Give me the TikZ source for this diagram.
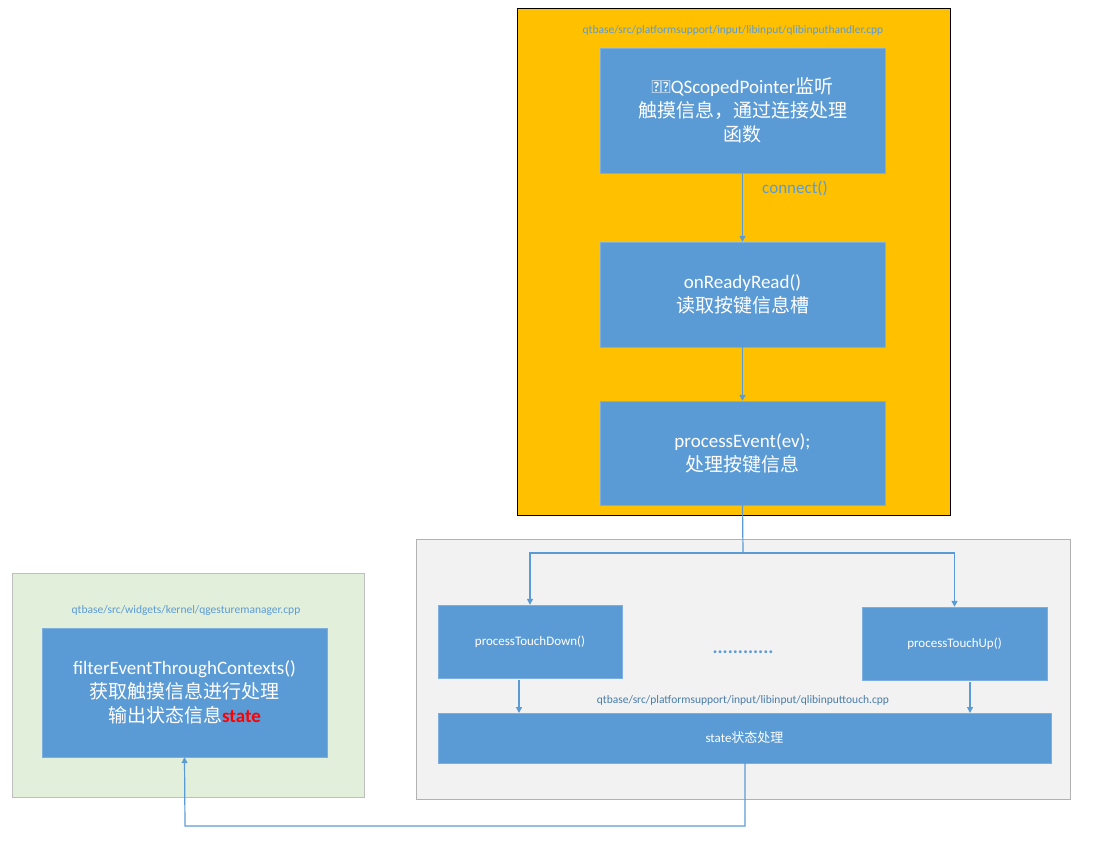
\documentclass[tikz,border=0pt]{standalone}
\usepackage{fontspec}
\setmainfont{Carlito}
\newfontfamily\cjk{Noto Sans CJK SC}
\usetikzlibrary{arrows.meta}
\definecolor{bl}{HTML}{5B9BD5}
\definecolor{org}{HTML}{FFC000}
\definecolor{gr}{HTML}{F2F2F2}
\definecolor{gn}{HTML}{E2EFDA}
\begin{document}
\begin{tikzpicture}[x=1pt,y=-1pt,
 box/.style={fill=bl,draw=bl!80!white,text=white,align=center,font=\fontsize{19}{24}\selectfont,inner sep=0pt},
 sbox/.style={fill=bl,draw=bl!80!white,text=white,align=center,font=\fontsize{13}{16}\selectfont,inner sep=0pt},
 lbl/.style={text=bl,font=\fontsize{11.5}{14}\selectfont},
 arr/.style={draw=bl,line width=1.2pt,-{Triangle[length=6pt,width=6pt]}},
 ln/.style={draw=bl,line width=1.2pt}]
\useasboundingbox (0,0) rectangle (1094,846);
\draw[fill=org,draw=black] (517,8) rectangle (950,515);
\node[lbl] (l1) at (733,30) {qtbase/src/platformsupport/input/libinput/qlibinputhandler.cpp};
\node[box,minimum width=285,minimum height=125] (b1) at (742.5,110.5) {通过QScopedPointer{\cjk 监听}\\{\cjk 触摸信息，通过连接处理}\\{\cjk 函数}};
\node[text=bl,font=\fontsize{17}{20}\selectfont] (c) at (795,188) {connect()};
\node[box,minimum width=285,minimum height=105] (b2) at (742.5,294.5) {onReadyRead()\\{\cjk 读取按键信息槽}};
\node[box,minimum width=285,minimum height=104] (b3) at (742.5,453) {processEvent(ev);\\{\cjk 处理按键信息}};
\draw[arr] (b1) -- (b2);
\draw[arr] (b2) -- (b3);
\draw[fill=gr,draw=black!30] (416,539) rectangle (1070,799);
\node[sbox,minimum width=184,minimum height=73] (d) at (530,641.5) {processTouchDown()};
\node[sbox,minimum width=185,minimum height=73] (u) at (954.5,643.5) {processTouchUp()};
\node[text=bl,font=\fontsize{19}{20}\selectfont\bfseries] (dots) at (743,652) {............};
\node[lbl,text=bl!80!black] (l2) at (743,700) {qtbase/src/platformsupport/input/libinput/qlibinputtouch.cpp};
\node[sbox,minimum width=613,minimum height=50] (s) at (744.5,738) {state{\cjk 状态处理}};
\coordinate (j) at (743,553);
\draw[ln] (b3.south) -- (j);
\draw[arr] (j) -| (d.north);
\draw[arr] (j) -| (u.north);
\draw[arr] (519,680) -- (519,713);
\draw[arr] (970,682) -- (970,713);
\draw[fill=gn,draw=black!25] (12,573) rectangle (364,797);
\node[lbl] (l3) at (186,610) {qtbase/src/widgets/kernel/qgesturemanager.cpp};
\node[box,minimum width=285,minimum height=129] (f) at (184.5,692.5) {filterEventThroughContexts()\\{\cjk 获取触摸信息进行处理}\\{\cjk 输出状态信息}\textcolor{red}{\textbf{state}}};
\draw[arr] (745,763) -- (745,826) -- (185,826) -- (f.south);
\end{tikzpicture}
\end{document}
